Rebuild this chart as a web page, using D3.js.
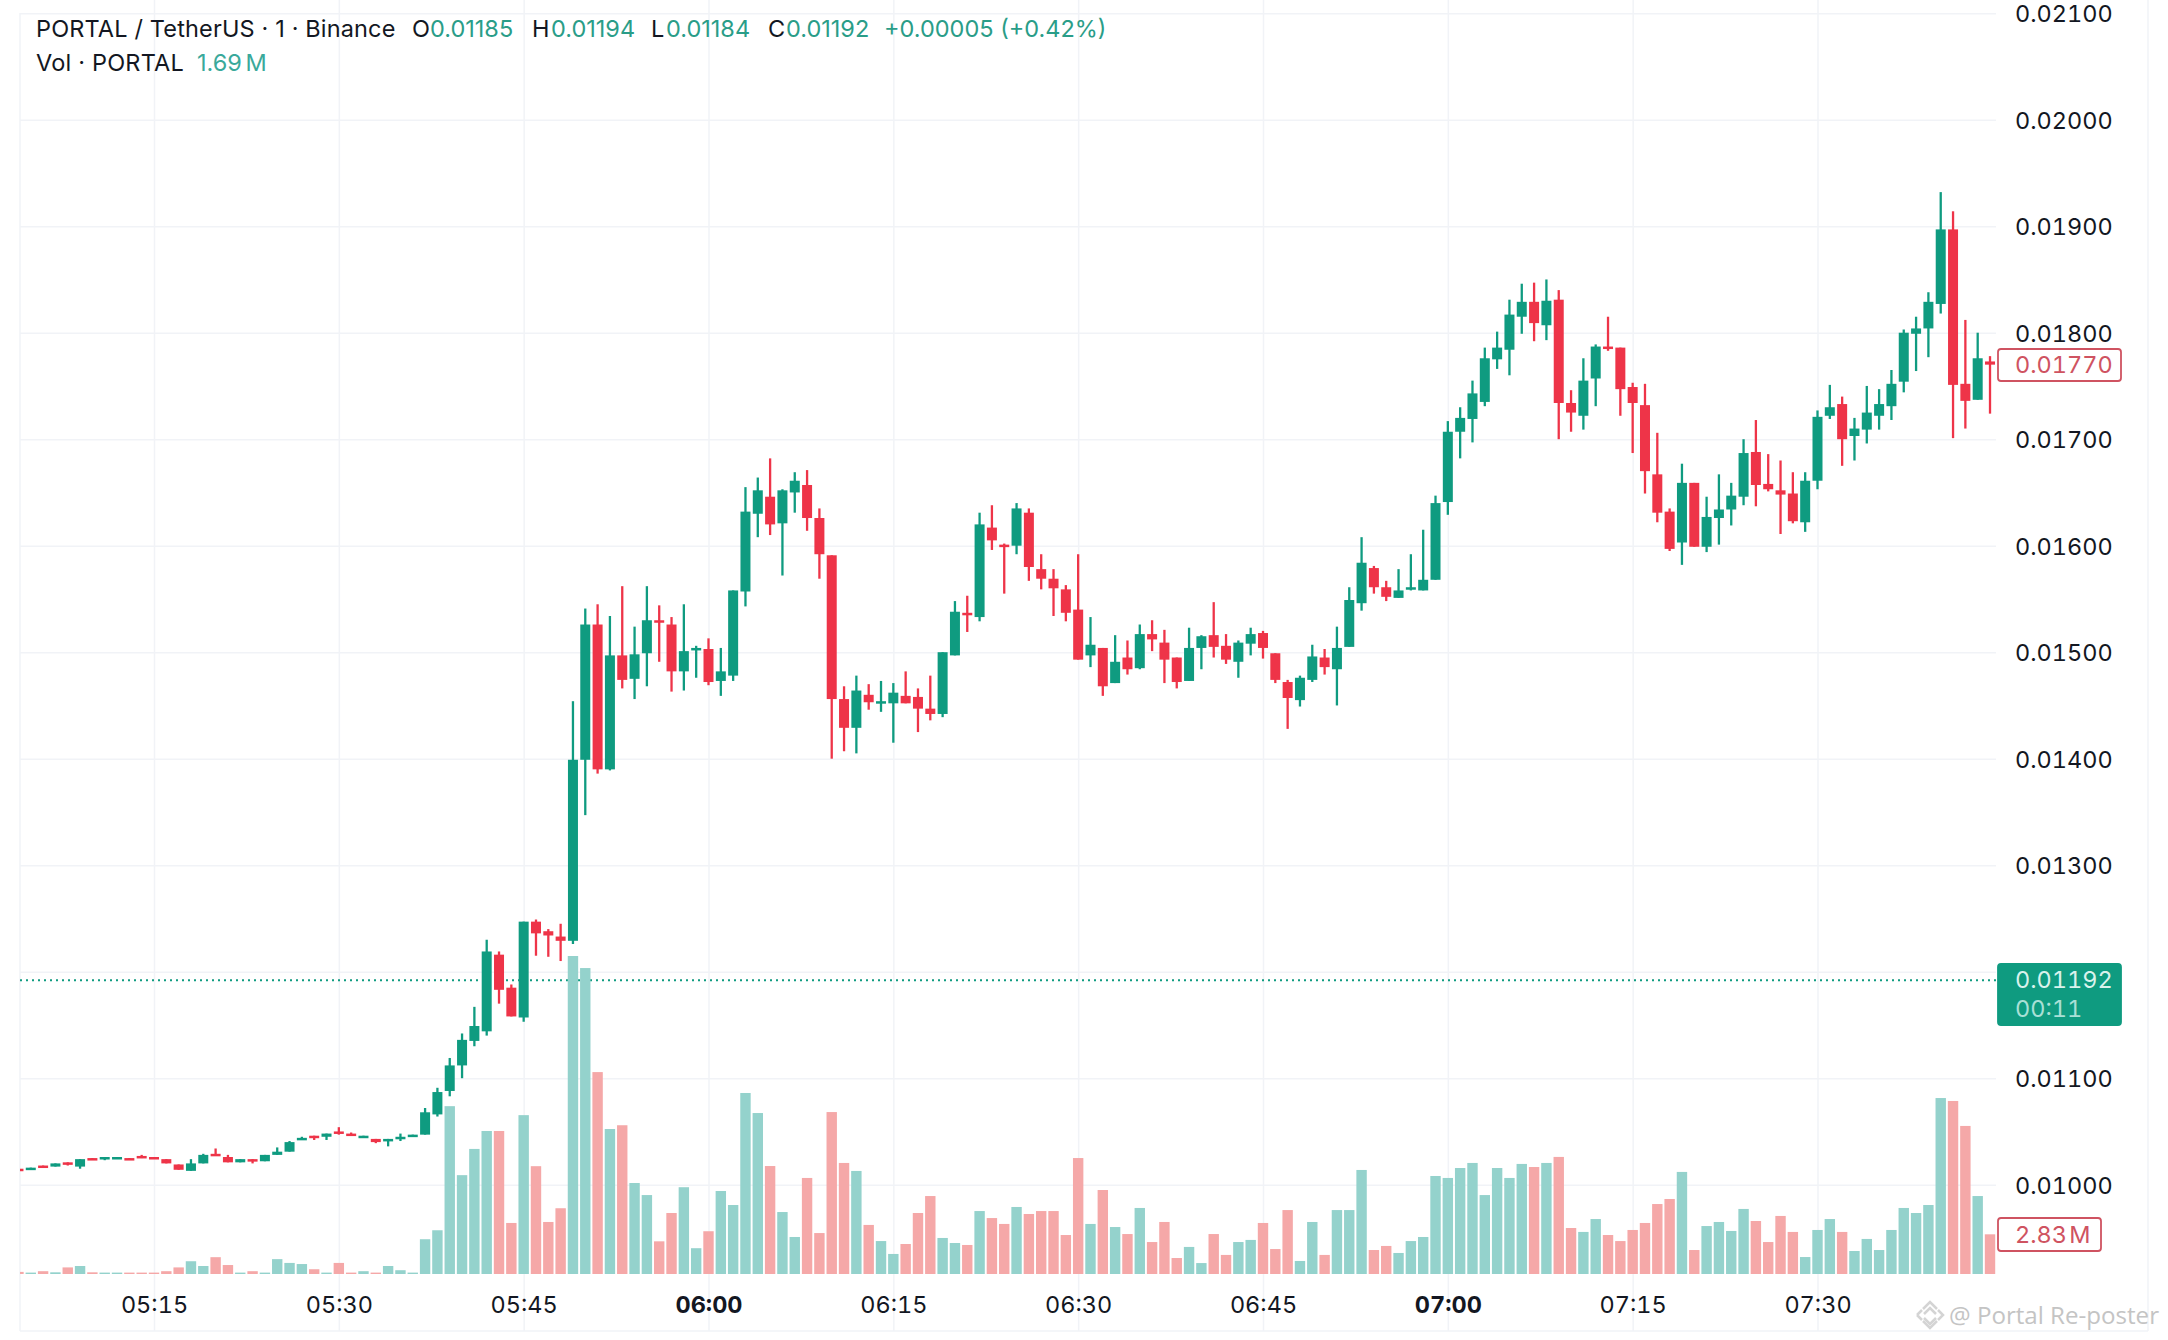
<!DOCTYPE html>
<html>
<head>
<meta charset="utf-8">
<style>
  html, body { margin: 0; padding: 0; background: #fff; }
  svg text { font-family: Inter, "Noto Sans", sans-serif; }
  .tnum text, text.tnum { font-variant-numeric: tabular-nums; }
  .axis path, .axis line { display: none; }
  .grid path { display: none; }
  .grid line { stroke: #f1f3f7; stroke-width: 1.5; }
  .grid text { display: none; }
</style>
<script src="https://cdn.jsdelivr.net/npm/d3@7"></script>
</head>
<body>
<div id="chart"></div>
<script>
// first candle is 05:04, one per minute. prices are in units of 0.00001
const firstMinute = 5 * 60 + 4;

const opens = [
  1015,1015,1018,1017,1021,1017,1025,1025,1025,1025,
  1027,1026,1024,1019,1013,1020,1029,1026,1021,1024,
  1022,1028,1031,1042,1046,1045,1050,1048,1045,1043,
  1042,1043,1046,1047,1066,1088,1112,1135,1144,1216,
  1185,1157,1247,1238,1233,1229,1399,1526,1390,1497,
  1475,1499,1530,1526,1482,1502,1503,1473,1478,1557,
  1630,1646,1621,1650,1657,1626,1591,1456,1429,1460,
  1453,1452,1459,1458,1447,1442,1497,1537,1533,1617,
  1601,1600,1631,1578,1569,1559,1540,1497,1504,1471,
  1495,1485,1517,1509,1495,1473,1504,1516,1506,1491,
  1508,1518,1499,1472,1455,1474,1495,1484,1505,1546,
  1579,1561,1551,1560,1558,1568,1641,1707,1719,1735,
  1775,1784,1815,1829,1807,1831,1734,1722,1757,1787,
  1786,1749,1732,1667,1632,1603,1659,1599,1626,1634,
  1646,1688,1658,1652,1649,1622,1661,1722,1733,1703,
  1709,1722,1731,1754,1799,1804,1827,1897,1752,1737,
  1773
];
const highs = [
  1015,1016,1018,1020,1021,1024,1025,1026,1026,1025,
  1028,1026,1024,1019,1024,1029,1034,1028,1024,1024,
  1028,1035,1041,1045,1046,1048,1054,1049,1046,1043,
  1043,1048,1047,1072,1091,1119,1142,1167,1230,1219,
  1188,1247,1249,1240,1245,1454,1541,1545,1534,1562,
  1524,1562,1544,1533,1545,1506,1513,1504,1558,1655,
  1664,1682,1653,1669,1671,1635,1591,1468,1478,1470,
  1473,1471,1482,1466,1478,1500,1548,1553,1631,1638,
  1602,1640,1635,1592,1578,1563,1592,1533,1504,1516,
  1511,1526,1530,1521,1495,1523,1516,1547,1517,1511,
  1523,1520,1499,1474,1478,1507,1503,1524,1561,1608,
  1581,1567,1578,1592,1615,1647,1717,1730,1755,1786,
  1801,1831,1846,1847,1850,1840,1746,1776,1789,1815,
  1786,1753,1752,1706,1635,1677,1659,1646,1667,1659,
  1700,1718,1686,1680,1669,1669,1727,1751,1740,1720,
  1750,1747,1765,1803,1815,1838,1932,1914,1812,1800,
  1778
];
const lows = [
  1014,1014,1016,1017,1018,1015,1024,1023,1025,1024,
  1025,1025,1020,1014,1013,1020,1027,1021,1021,1020,
  1022,1028,1031,1042,1042,1042,1047,1046,1044,1039,
  1036,1041,1046,1047,1064,1083,1100,1130,1140,1170,
  1158,1153,1215,1214,1210,1226,1347,1386,1389,1466,
  1456,1468,1491,1463,1464,1476,1469,1459,1473,1543,
  1608,1610,1572,1631,1614,1569,1400,1407,1405,1446,
  1444,1415,1452,1425,1436,1439,1497,1519,1529,1596,
  1555,1592,1567,1559,1534,1529,1493,1486,1459,1471,
  1479,1484,1501,1471,1466,1473,1484,1495,1489,1476,
  1497,1494,1471,1428,1449,1472,1479,1450,1505,1539,
  1555,1548,1551,1558,1558,1568,1629,1682,1697,1731,
  1766,1760,1799,1792,1793,1700,1707,1709,1731,1783,
  1722,1687,1649,1622,1595,1582,1599,1594,1601,1619,
  1638,1637,1651,1611,1621,1613,1653,1719,1675,1680,
  1696,1709,1718,1744,1764,1777,1818,1701,1710,1737,
  1724
];
const closes = [
  1014,1016,1017,1020,1020,1024,1024,1026,1026,1024,
  1026,1025,1020,1014,1020,1028,1027,1021,1024,1023,
  1028,1031,1040,1044,1045,1048,1048,1046,1046,1040,
  1043,1045,1047,1068,1087,1112,1136,1149,1219,1183,
  1158,1247,1236,1234,1229,1399,1526,1390,1497,1474,
  1498,1530,1529,1482,1501,1504,1472,1482,1558,1632,
  1652,1620,1652,1661,1626,1592,1456,1429,1464,1453,
  1454,1462,1452,1447,1442,1500,1538,1536,1620,1605,
  1600,1635,1580,1569,1560,1537,1493,1507,1468,1491,
  1484,1517,1512,1493,1472,1504,1515,1505,1493,1509,
  1517,1504,1474,1457,1476,1496,1486,1504,1549,1584,
  1561,1552,1558,1561,1568,1640,1707,1720,1743,1776,
  1786,1817,1829,1809,1830,1734,1725,1755,1787,1786,
  1747,1734,1670,1631,1597,1659,1599,1627,1634,1647,
  1687,1657,1653,1648,1623,1661,1721,1730,1700,1710,
  1725,1733,1752,1800,1804,1829,1897,1751,1736,1776,
  1770
];
// volume in millions
const volumes = [
  0.15,0.10,0.20,0.12,0.47,0.57,0.12,0.10,0.10,0.10,
  0.10,0.10,0.20,0.47,0.91,0.57,1.20,0.64,0.10,0.20,
  0.10,1.06,0.79,0.71,0.34,0.10,0.79,0.10,0.20,0.10,
  0.57,0.27,0.10,2.48,3.12,11.97,7.05,8.92,10.20,10.20,
  3.64,11.33,7.69,3.71,4.69,22.68,21.82,14.40,10.34,10.61,
  6.49,5.63,2.33,4.35,6.19,1.84,3.05,5.92,4.92,12.91,
  11.48,7.70,4.42,2.64,6.85,2.92,11.55,7.92,7.35,3.50,
  2.35,1.43,2.14,4.35,5.56,2.57,2.21,2.07,4.49,3.99,
  3.57,4.78,4.28,4.49,4.49,2.78,8.27,3.57,5.99,3.35,
  2.85,4.71,2.28,3.71,1.14,1.93,0.78,2.85,1.36,2.28,
  2.43,3.64,1.78,4.56,0.93,3.71,1.36,4.56,4.56,7.42,
  1.71,2.00,1.50,2.35,2.64,6.99,6.85,7.56,7.92,5.63,
  7.56,6.85,7.85,7.63,7.92,8.35,3.28,3.00,3.92,2.78,
  2.35,3.14,3.64,4.99,5.35,7.28,1.71,3.42,3.71,3.07,
  4.64,3.78,2.28,4.14,3.00,1.21,3.14,3.92,3.00,1.64,
  2.50,1.71,3.14,4.71,4.35,4.92,12.55,12.34,10.56,5.56,
  2.83
];

const priceTicks = [0.021, 0.020, 0.019, 0.018, 0.017, 0.016, 0.015, 0.014, 0.013, 0.011, 0.010];
const gridPrices = [0.021, 0.020, 0.019, 0.018, 0.017, 0.016, 0.015, 0.014, 0.013, 0.012, 0.011, 0.010];
const timeTicks = ['05:15', '05:30', '05:45', '06:00', '06:15', '06:30', '06:45', '07:00', '07:15', '07:30'];
const boldTimes = ['06:00', '07:00'];
const lastPrice = 0.01192;
const lastClose = 0.0177;
const lastVolume = 2.83;

const legendTop = [
  { x: 36, t: 'PORTAL / TetherUS · 1 · Binance', c: 'ink', ls: 0.15 },
  { x: 412, t: 'O', c: 'ink' }, { x: 430, t: '0.01185', c: 'up' },
  { x: 532, t: 'H', c: 'ink' }, { x: 551, t: '0.01194', c: 'up' },
  { x: 651, t: 'L', c: 'ink' }, { x: 666, t: '0.01184', c: 'up' },
  { x: 768, t: 'C', c: 'ink' }, { x: 786, t: '0.01192', c: 'up' },
  { x: 884, t: '+0.00005 (+0.42%)', c: 'up' }
];
const legendVol = [
  { x: 36, t: 'Vol · PORTAL', c: 'ink', ws: 0, ls: 0.2 },
  { x: 197, t: '1.69 M', c: 'vol', ws: -3, ls: 0 }
];

const width = 2168;
const height = 1340;
const up = '#0f9b80';
const down = '#ee3448';
const upVol = '#94d2cc';
const downVol = '#f5a8a8';
const ink = '#131722';
const colors = { ink: ink, up: '#2a9d88', vol: '#3aa99b' };
const plotLeft = 20;
const plotRight = 1996;
const frameRight = 2148;
const plotBottom = 1331;
const tagLeft = 1998;
const labelLeft = 2015;

const day = (m) => new Date(2024, 0, 1, Math.floor(m / 60), m % 60);
const toMin = (s) => +s.slice(0, 2) * 60 + +s.slice(3);

const candles = opens.map((o, i) => ({
  time: day(firstMinute + i),
  o: o / 1e5, h: highs[i] / 1e5, l: lows[i] / 1e5, c: closes[i] / 1e5, v: volumes[i]
}));

const x = d3.scaleTime().domain([day(toMin('05:15')), day(toMin('07:30'))]).range([154, 1817.5]);
const y = d3.scaleLinear().domain([0.010, 0.021]).range([1184.7, 13.2]);
const yVol = d3.scaleLinear().domain([0, 22.68]).range([1274, 956]);

const svg = d3.select('#chart').append('svg')
  .attr('width', width).attr('height', height)
  .style('display', 'block');

svg.append('defs').append('clipPath').attr('id', 'plot')
  .append('rect').attr('x', plotLeft).attr('y', 0)
  .attr('width', plotRight - plotLeft).attr('height', plotBottom);

// gridlines
svg.append('g').attr('class', 'grid')
  .attr('transform', `translate(${plotLeft},0)`)
  .call(d3.axisLeft(y).tickValues(gridPrices).tickSize(-(plotRight - plotLeft)));
svg.append('g').attr('class', 'grid')
  .attr('transform', `translate(0,${plotBottom})`)
  .call(d3.axisBottom(x).tickValues(timeTicks.map((s) => day(toMin(s)))).tickSize(-plotBottom));

// frame
const frame = svg.append('g').attr('stroke', '#f1f3f7').attr('stroke-width', 1.5);
frame.append('line').attr('x1', plotLeft).attr('x2', plotLeft).attr('y1', 13).attr('y2', plotBottom);
frame.append('line').attr('x1', frameRight).attr('x2', frameRight).attr('y1', 0).attr('y2', plotBottom);
frame.append('line').attr('x1', plotLeft).attr('x2', frameRight).attr('y1', plotBottom).attr('y2', plotBottom);

const plot = svg.append('g').attr('clip-path', 'url(#plot)');

// dotted last price line
plot.append('line')
  .attr('x1', plotLeft).attr('x2', plotRight)
  .attr('y1', y(lastPrice)).attr('y2', y(lastPrice))
  .attr('stroke', up).attr('stroke-width', 2).attr('stroke-dasharray', '2,4');

// volume
plot.append('g').selectAll('rect').data(candles).join('rect')
  .attr('x', (d) => x(d.time) - 5.2)
  .attr('width', 10.4)
  .attr('y', (d) => yVol(d.v))
  .attr('height', (d) => yVol(0) - yVol(d.v))
  .attr('fill', (d) => (d.c >= d.o ? upVol : downVol));

// wicks
plot.append('g').selectAll('line').data(candles).join('line')
  .attr('x1', (d) => x(d.time)).attr('x2', (d) => x(d.time))
  .attr('y1', (d) => y(d.h)).attr('y2', (d) => y(d.l))
  .attr('stroke-width', 2.3)
  .attr('stroke', (d) => (d.c >= d.o ? up : down));

// bodies
plot.append('g').selectAll('rect').data(candles).join('rect')
  .attr('x', (d) => x(d.time) - 5)
  .attr('width', 10)
  .attr('y', (d) => y(Math.max(d.o, d.c)))
  .attr('height', (d) => Math.max(Math.abs(y(d.o) - y(d.c)), 2.5))
  .attr('fill', (d) => (d.c >= d.o ? up : down));

// axes
const yAxis = svg.append('g').attr('class', 'axis tnum')
  .attr('transform', `translate(${plotRight},0)`)
  .call(d3.axisRight(y).tickValues(priceTicks).tickFormat(d3.format('.5f')).tickSize(0).tickPadding(labelLeft - plotRight));
yAxis.selectAll('text').attr('font-size', 23.5).attr('dy', '0.36em').attr('fill', ink);

const xAxis = svg.append('g').attr('class', 'axis tnum')
  .attr('transform', 'translate(0,1296)')
  .call(d3.axisBottom(x)
    .tickValues(timeTicks.map((s) => day(toMin(s))))
    .tickFormat(d3.timeFormat('%H:%M')).tickSize(0).tickPadding(0));
xAxis.selectAll('text')
  .attr('font-size', 23.5).attr('fill', ink)
  .attr('font-weight', (d) => (boldTimes.includes(d3.timeFormat('%H:%M')(d)) ? 700 : 400));

// right side labels
const tag = (box, stroke, fill) => svg.append('rect')
  .attr('x', tagLeft).attr('y', box[0]).attr('width', box[1]).attr('height', box[2])
  .attr('rx', 3).attr('fill', fill).attr('stroke', stroke).attr('stroke-width', 1.8);
const label = (txt, yy, color) => svg.append('text').attr('class', 'tnum')
  .attr('x', labelLeft).attr('y', yy).attr('dy', '0.36em')
  .attr('word-spacing', -4)
  .attr('font-size', 23.5).attr('fill', color).text(txt);

tag([964, 123, 61], up, up);
label(d3.format('.5f')(lastPrice), y(lastPrice) - 0.5, '#d9f2ec');
label('00:11', 1009, '#a9e0d6');

tag([349, 123, 32], '#cf5361', '#fff');
label(d3.format('.5f')(lastClose), 365, '#cf5361');

tag([1218, 103, 33], '#cf5361', '#fff');
label(lastVolume + ' M', 1234.5, '#cf5361');

// legend
const legend = svg.append('g').attr('font-size', 23.5);
legend.selectAll('.top').data(legendTop).join('text').attr('class', 'top')
  .attr('x', (d) => d.x).attr('y', 29).attr('dy', '0.36em')
  .attr('letter-spacing', (d) => d.ls || 0)
  .attr('fill', (d) => colors[d.c]).text((d) => d.t);
legend.selectAll('.vol').data(legendVol).join('text').attr('class', 'vol')
  .attr('x', (d) => d.x).attr('y', 63).attr('dy', '0.36em')
  .attr('word-spacing', (d) => d.ws)
  .attr('letter-spacing', (d) => d.ls)
  .attr('fill', (d) => colors[d.c]).text((d) => d.t);

// watermark
const mark = svg.append('g').attr('transform', 'translate(1930,1315)')
  .attr('fill', 'none').attr('stroke', '#d4d4d4').attr('stroke-width', 2.5);
mark.append('path').attr('d', 'M-13,0 L-8,-5 M-7,-6 L0,-13 L7,-6 M8,-5 L13,0 L8,5 M7,6 L0,13 L-7,6 M-8,5 L-13,0');
mark.append('path').attr('d', 'M-6,-1 L0,-7 L6,-1 M-6,3 L0,9 L6,3');
svg.append('text').attr('x', 1949).attr('y', 1315).attr('dy', '0.36em')
  .style('font-family', '"Open Sans", sans-serif')
  .attr('font-size', 24).attr('fill', '#c4c4c4')
  .attr('textLength', 210).attr('lengthAdjust', 'spacingAndGlyphs')
  .text('@ Portal Re-poster');
</script>
</body>
</html>
